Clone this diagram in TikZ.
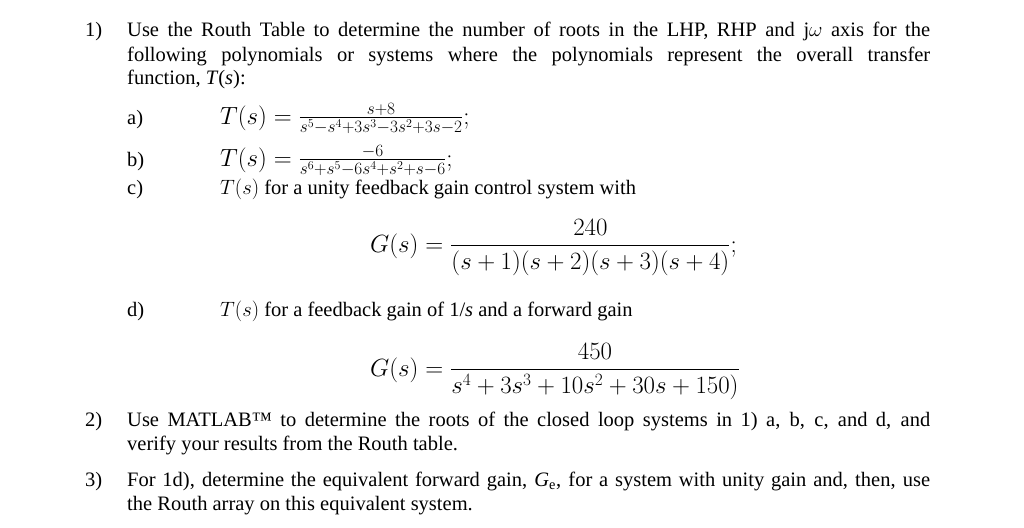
\documentclass[tikz,border=0pt]{standalone}
\usepackage{amsmath}
\usepackage{fontspec}
\setmainfont{Liberation Serif}
\begin{document}
\begin{tikzpicture}[x=1pt,y=-1pt,
  t/.style={anchor=base west,inner sep=0pt,font=\fontsize{20.5}{24}\selectfont},
  m/.style={anchor=base west,inner sep=0pt,font=\fontsize{23}{26}\selectfont}]
\useasboundingbox (0,0) rectangle (1024,527);
\node[t] (n1) at (85,37) {1)};
\node[t] (l1) at (127,37) {\makebox[803pt][s]{Use the Routh Table to determine the number of roots in the LHP, RHP and j$\omega$ axis for the}};
\node[t] (l2) at (127,61) {\makebox[803pt][s]{following polynomials or systems where the polynomials represent the overall transfer}};
\node[t] (l3) at (127,84) {function, \textit{T}(\textit{s}):};
\node[t] (a) at (127,124) {a)};
\node[m] (ea) at (220,124) {$T(s)=\frac{s+8}{s^5-s^4+3s^3-3s^2+3s-2};$};
\node[t] (b) at (127,166) {b)};
\node[m] (eb) at (220,166) {$T(s)=\frac{-6}{s^6+s^5-6s^4+s^2+s-6};$};
\node[t] (c) at (127,194) {c)};
\node[t] (lc) at (220,194) {{\fontsize{22}{24}\selectfont$T(s)$} for a unity feedback gain control system with};
\node[m] (ec) at (370,252) {$G(s)=\dfrac{240}{(s+1)(s+2)(s+3)(s+4)};$};
\node[t] (d) at (127,316) {d)};
\node[t] (ld) at (220,316) {{\fontsize{22}{24}\selectfont$T(s)$} for a feedback gain of 1/\textit{s} and a forward gain};
\node[m] (ed) at (370,376) {$G(s)=\dfrac{450}{s^4+3s^3+10s^2+30s+150)}$};
\node[t] (n2) at (85,426) {2)};
\node[t] (m1) at (127,426) {\makebox[803pt][s]{Use MATLAB™ to determine the roots of the closed loop systems in 1) a, b, c, and d, and}};
\node[t] (m2) at (127,450) {verify your results from the Routh table.};
\node[t] (n3) at (85,486) {3)};
\node[t] (k1) at (127,486) {\makebox[803pt][s]{For 1d), determine the equivalent forward gain, \textit{G}\textsubscript{e}, for a system with unity gain and, then, use}};
\node[t] (k2) at (127,510) {the Routh array on this equivalent system.};
\end{tikzpicture}
\end{document}
